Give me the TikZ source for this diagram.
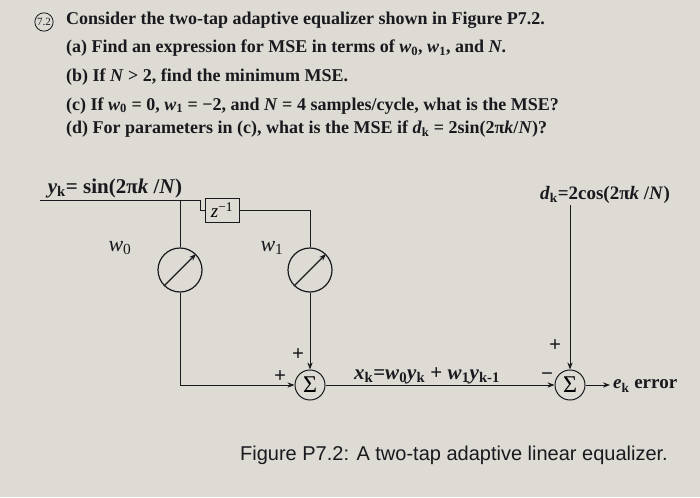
\documentclass[tikz,border=0pt]{standalone}
\usepackage{fontspec}
\setmainfont{Liberation Serif}
\setsansfont{Liberation Sans}
\usetikzlibrary{arrows.meta}
\definecolor{paper}{RGB}{222,219,212}
\definecolor{ink}{RGB}{25,25,30}
\newcommand{\vv}[2]{\textit{#1}\textsubscript{#2}}
\tikzset{
  wt/.style={circle,draw=ink,line width=1.2pt,minimum size=44pt,inner sep=0pt},
  sumn/.style={circle,draw=ink,line width=1pt,minimum size=30pt,inner sep=0pt,font=\fontsize{24}{24}\selectfont},
  dly/.style={draw=ink,line width=1pt,minimum width=34pt,minimum height=24pt,inner sep=0pt,font=\fontsize{19}{19}\selectfont},
  ln/.style={draw=ink,line width=1pt},
  lbl/.style={inner sep=1pt,text=ink,font=\bfseries\fontsize{21}{22}\selectfont},
  hd/.style={anchor=west,inner sep=0pt,text=ink,font=\bfseries\fontsize{18}{20}\selectfont}
}
\begin{document}
\begin{tikzpicture}[x=1pt,y=-1pt]
\fill[paper] (0,0) rectangle (700,497);
\useasboundingbox (0,0) rectangle (700,497);
\node[circle,draw=ink,thick,inner sep=1pt,font=\fontsize{11}{11}\selectfont,text=ink] (num) at (44,22) {7.2};
\node[hd] (t0) at (66,20) {Consider the two-tap adaptive equalizer shown in Figure P7.2.};
\node[hd] (ta) at (66,48) {(a) Find an expression for MSE in terms of \vv{w}{0}, \vv{w}{1}, and \textit{N}.};
\node[hd] (tb) at (66,77) {(b) If \textit{N} > 2, find the minimum MSE.};
\node[hd] (tc) at (66,106) {(c) If \vv{w}{0} = 0, \vv{w}{1} = −2, and \textit{N} = 4 samples/cycle, what is the MSE?};
\node[hd] (td) at (66,129) {(d) For parameters in (c), what is the MSE if \vv{d}{k} = 2sin(2π\textit{k}/\textit{N})?};

\node[lbl,font=\bfseries\fontsize{21}{22}\selectfont] (yk) at (115,188) {\vv{y}{k}= sin(2π\textit{k} /\textit{N})};
\node[dly] (z) at (222,210) {\textit{z}\textsuperscript{−1}};
\node[wt] (w0) at (180,270) {};
\node[wt] (w1) at (310,270) {};
\draw[ink,line width=1.2pt,-{Stealth[length=7pt]}] (w0.225) -- (w0.45);
\draw[ink,line width=1.2pt,-{Stealth[length=7pt]}] (w1.225) -- (w1.45);
\node[lbl,font=\fontsize{22}{22}\selectfont] (lw0) at (120,248) {\vv{w}{0}};
\node[lbl,font=\fontsize{22}{22}\selectfont] (lw1) at (272,248) {\vv{w}{1}};
\node[sumn] (s1) at (310,385) {Σ};
\node[sumn] (s2) at (570,385) {Σ};
\coordinate (in) at (40,200);
\coordinate (dk) at (570,205);
\node[lbl,font=\bfseries\fontsize{19}{20}\selectfont] (ldk) at (605,195) {\vv{d}{k}=2cos(2π\textit{k} /\textit{N})};
\draw[ln] (in) -- (180,200) -- (w0.north);
\draw[ln] (180,200) -- (200,200) -- (200,210) -- (z.west);
\draw[ln] (z.east) -- (310,210) -- (w1.north);
\draw[ln,-{Stealth[length=7pt]}] (w0.south) |- (s1.west);
\draw[ln,-{Stealth[length=7pt]}] (w1.south) -- (s1.north);
\draw[ln,-{Stealth[length=7pt]}] (s1.east) -- (s2.west);
\draw[ln,-{Stealth[length=7pt]}] (dk) -- (s2.north);
\coordinate (out) at (610,385);
\draw[ln,-{Stealth[length=7pt]}] (s2.east) -- (out);
\node[lbl] (p1) at (280,377) {+};
\node[lbl] (p2) at (298,355) {+};
\node[lbl] (m2) at (547,377) {−};
\node[lbl] (p3) at (555,346) {+};
\node[lbl,font=\bfseries\fontsize{21}{22}\selectfont] (xk) at (427,376) {\vv{x}{k}=\vv{w}{0}\vv{y}{k} + \vv{w}{1}\vv{y}{k-1}};
\node[lbl,anchor=west,font=\bfseries\fontsize{19}{20}\selectfont] (ek) at (612,386) {\vv{e}{k} error};
\node[lbl,font=\sffamily\fontsize{20}{22}\selectfont] (cap) at (454,455) {Figure P7.2: A two-tap adaptive linear equalizer.};
\end{tikzpicture}
\end{document}
